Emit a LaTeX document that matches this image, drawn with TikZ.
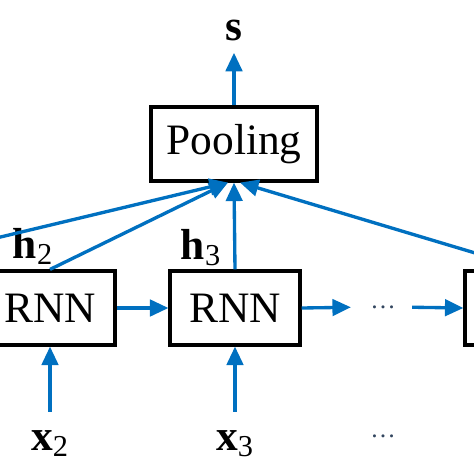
\documentclass[tikz,border=0pt]{standalone}
\usepackage{fontspec}
\setmainfont{Liberation Serif}
\usepackage{xcolor}
\usetikzlibrary{arrows.meta, positioning, calc}
\definecolor{linkblue}{RGB}{0,112,192}
\definecolor{dotgray}{RGB}{50,70,95}

\begin{document}
\begin{tikzpicture}[x=0.02cm, y=-0.02cm,
  cell/.style={rectangle, draw, line width=1.8pt, minimum width=2.6cm, minimum height=1.48cm,
              inner sep=0pt, font=\fontsize{24.7}{30}\selectfont},
  pbox/.style={cell, minimum width=3.32cm},
  lab/.style={inner sep=0pt, font=\fontsize{24.7}{30}\selectfont},
  dotlab/.style={inner sep=0pt, text=dotgray, font=\fontsize{14.5}{16}\selectfont},
  arr/.style={-{Triangle[length=3.7mm, width=3.3mm]}, line width=1.9pt, linkblue}
]
\useasboundingbox (0,0) rectangle (474,474);
\clip (0,0) rectangle (474,474);
\node[pbox] (pool) at (234,144) {Pooling};
\node[cell] (rnnA) at (-135,308) {RNN};
\node[cell] (rnnB) at (50,308) {RNN};
\node[cell] (rnnC) at (235,308) {RNN};
\node[cell] (rnnD) at (530,308) {RNN};
\node[lab, anchor=base] (s) at (234,40) {\textbf{s}};
\node[lab, anchor=base] (h2) at (33,258) {\textbf{h}\textsubscript{2}};
\node[lab, anchor=base] (h3) at (201,259) {\textbf{h}\textsubscript{3}};
\node[lab, anchor=base] (x2) at (50,450) {\textbf{x}\textsubscript{2}};
\node[lab, anchor=base] (x3) at (235,450) {\textbf{x}\textsubscript{3}};
\node[dotlab] (dotsR) at (383,307) {…};
\node[dotlab] (dotsB) at (383,436) {…};
\draw[arr, shorten >=0.24cm] (pool.north) -- (s.south);
\draw[arr] (rnnA.north) -- ([xshift=-0.12cm]pool.south);
\draw[arr] (rnnB.north) -- ([xshift=-0.12cm]pool.south);
\draw[arr] (rnnC.north) -- (pool.south);
\draw[arr] (rnnD.north) -- ([xshift=0.12cm]pool.south);
\draw[arr] (rnnB.east) -- (rnnC.west);
\draw[arr, shorten >=0.38cm] (rnnC.east) -- (dotsR.west);
\draw[arr, shorten <=0.32cm] (dotsR.east) -- (rnnD.west);
\draw[arr, shorten <=0.36cm] (x2.north) -- (rnnB.south);
\draw[arr, shorten <=0.36cm] (x3.north) -- (rnnC.south);
\end{tikzpicture}
\end{document}
